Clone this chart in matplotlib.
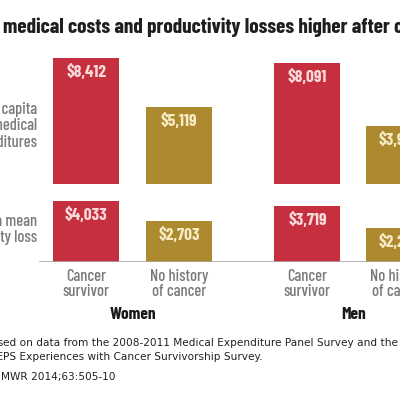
import matplotlib
matplotlib.use("Agg")
import matplotlib.pyplot as plt
from matplotlib import font_manager

# data
groups = ["Women", "Men"]
categories = ["Cancer\nsurvivor", "No history\nof cancer"]
medical = [8412, 5119, 8091, 3903]
productivity = [4033, 2703, 3719, 2260]
row_labels = ["Per capita\nmean medical\nexpenditures", "Per capita mean\nproductivity loss"]
title_start = "Cancer survivors'"
title_rest = "medical costs and productivity losses higher after cancer"
note_lines = [("Note: Bas", "ed on data from the 2008-2011 Medical Expenditure Panel Survey and the"),
              ("LIVESTRONG/ME", "PS Experiences with Cancer Survivorship Survey.")]
source_line = ("Source: M", "MWR 2014;63:505-10")

RED = "#C6303E"
GOLD = "#AD8A30"
names = {f.name for f in font_manager.fontManager.ttflist}
NARROW = "DejaVu Sans"
for cand in ["Barlow Condensed", "Roboto Condensed", "Archivo Narrow", "Oswald"]:
    if cand in names:
        NARROW = cand
        break

xpos = [0, 1, 2.38, 3.37]
colors = [RED, GOLD, RED, GOLD]
txtcol = ["#F8DADA", "#F6EBC4", "#F8DADA", "#F6EBC4"]
px_per_dollar = 126 / 8412

fig = plt.figure(figsize=(4, 4), dpi=100)

def add_panel(bottom_px, height_px, values):
    ax = fig.add_axes([0, (400 - bottom_px) / 400, 1, height_px / 400])
    ax.set_xlim(-0.925, 3.376)
    ax.set_ylim(0, height_px / px_per_dollar)
    ax.axis("off")
    bars = ax.bar(xpos, values, width=0.71, color=colors, clip_on=False)
    for b, v, c in zip(bars, values, txtcol):
        ax.annotate(f"${v:,}", (b.get_x() + b.get_width() / 2, v),
                    xytext=(0, -14), textcoords="offset pixels",
                    ha="center", va="center", color=c, fontsize=12.5,
                    family=NARROW, weight=700)
    return ax

ax_top = add_panel(184, 150, medical)
ax_bot = add_panel(261.5, 72, productivity)
ax_bot.axhline(0, xmin=40 / 400, xmax=1, color="#A8A8A8", lw=1.2)

for i, x in enumerate(xpos):
    ax_bot.annotate(categories[i % 2], (x, 0), xytext=(0, -22.5), textcoords="offset pixels",
                    ha="center", va="center", color="#7A7A7A", fontsize=11.8,
                    family=NARROW, weight=500, linespacing=1.02)
for g, x in zip(groups, [(xpos[0] + xpos[1]) / 2, (xpos[2] + xpos[3]) / 2]):
    ax_bot.annotate(g, (x, 0), xytext=(0, -53), textcoords="offset pixels",
                    ha="center", va="center", color="#1A1A1A", fontsize=12.5,
                    family=NARROW, weight=700)

# row labels on the left (cut off by the figure edge)
fig.text(37 / 400, (400 - 126) / 400, row_labels[0], ha="right", va="center",
         ma="right", color="#7A7A7A", fontsize=11.8, family=NARROW, weight=500,
         linespacing=1.1)
fig.text(37 / 400, (400 - 229.5) / 400, row_labels[1], ha="right", va="center",
         ma="right", color="#7A7A7A", fontsize=11.8, family=NARROW, weight=500,
         linespacing=1.1)

def cut_text(prefix, rest, x_px, y_px, gap=0, **kw):
    fig.text((x_px - gap) / 400, (400 - y_px) / 400, prefix, ha="right", va="center", **kw)
    fig.text(x_px / 400, (400 - y_px) / 400, rest, ha="left", va="center", **kw)

cut_text(title_start, title_rest, 3, 27, gap=5, fontsize=15.3, weight=700,
         family=NARROW, color="#1E1E1E")
cut_text(*note_lines[0], 3, 343, fontsize=7.6, color="#222222")
cut_text(*note_lines[1], 3, 357, fontsize=7.6, color="#222222")
cut_text(*source_line, 1, 377, fontsize=7.6, color="#222222")

plt.savefig("out.png", dpi=100)
